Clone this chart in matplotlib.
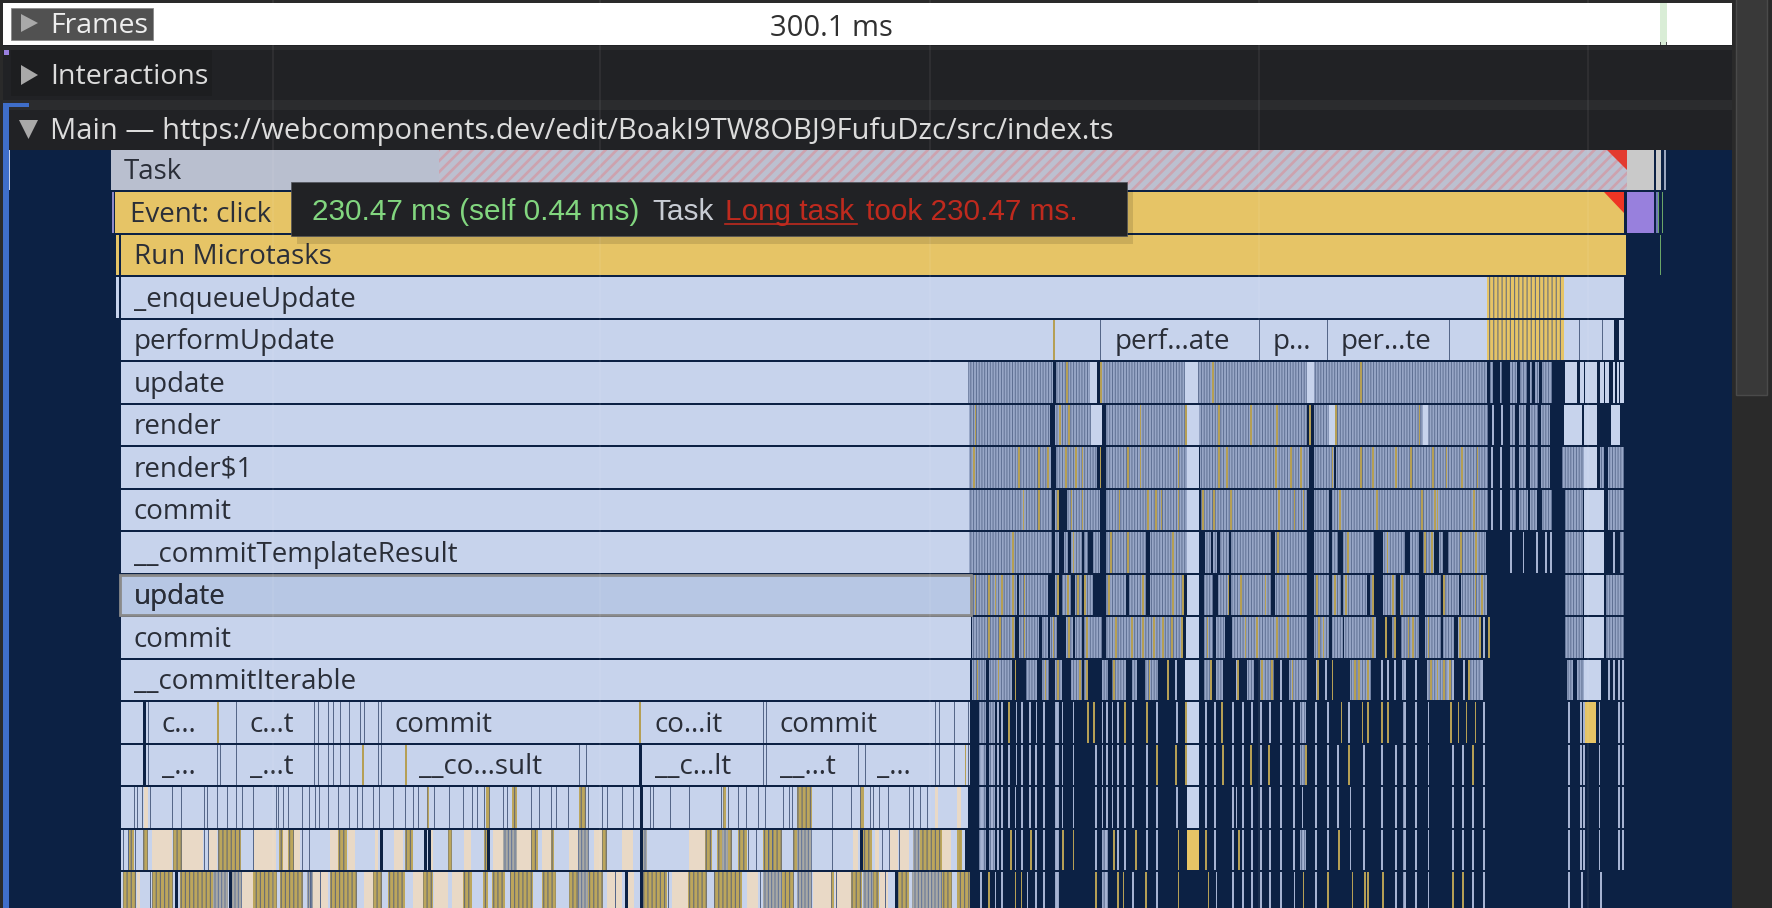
import matplotlib
matplotlib.use("Agg")
import matplotlib.pyplot as plt
from matplotlib.patches import Rectangle, Polygon

# ---- flame chart data: (start, end) on the timeline, gold / thin marks per stack depth ----
row_labels = {0: "Task", 1: "Event: click", 2: "Run Microtasks", 3: "_enqueueUpdate", 4: "performUpdate",
              5: "update", 6: "render", 7: "render$1", 8: "commit", 9: "__commitTemplateResult",
              10: "update", 11: "commit", 12: "__commitIterable"}
small_labels = [(4, 1115, "perf…ate"), (4, 1273, "p…"), (4, 1341, "per…te"),
                (13, 162, "c…"), (13, 250, "c…t"), (13, 395, "commit"), (13, 655, "co…it"), (13, 780, "commit"),
                (14, 162, "_…"), (14, 250, "_…t"), (14, 419, "__co…sult"), (14, 655, "__c…lt"), (14, 780, "__…t"), (14, 877, "_…")]

light = {
    3: [(121, 1487), (1564, 1624)],
    4: [(121, 1487), (1564, 1614), (1617, 1624)],
    5: [(121, 968), (1090, 1097), (1185, 1198), (1307, 1314), (1565, 1577), (1580, 1584), (1585, 1597), (1600, 1604), (1605, 1609), (1613, 1615), (1617, 1619), (1620, 1624)],
    6: [(121, 969), (1091, 1102), (1187, 1199), (1329, 1335), (1423, 1428), (1564, 1582), (1584, 1597), (1611, 1620)],
    7: [(121, 969), (1187, 1199), (1584, 1597)],
    8: [(121, 969), (1187, 1199), (1584, 1604)],
    9: [(121, 969), (1187, 1199), (1584, 1604)],
    10: [(1187, 1199), (1584, 1604)],
    11: [(121, 971), (1186, 1199), (1584, 1604)],
    12: [(121, 970), (1185, 1199), (1584, 1601)],
    13: [(121, 970), (1185, 1199)],
    14: [(121, 970), (1187, 1199)],
    15: [(121, 968), (1187, 1199)],
    16: [(121, 965)],
    17: [(121, 968)],
}
dense = {
    5: [(968, 1053), (1056, 1072), (1072, 1090), (1101, 1185), (1198, 1307), (1314, 1487), (1490, 1493), (1500, 1502), (1510, 1517), (1520, 1527), (1530, 1532), (1535, 1539), (1542, 1552)],
    6: [(969, 1050), (1055, 1091), (1106, 1187), (1199, 1307), (1314, 1329), (1335, 1423), (1428, 1488), (1510, 1515), (1519, 1526), (1530, 1538), (1541, 1550)],
    7: [(969, 1051), (1056, 1097), (1106, 1187), (1200, 1309), (1314, 1334), (1336, 1488), (1510, 1515), (1519, 1526), (1530, 1538), (1541, 1550), (1562, 1584), (1600, 1604), (1608, 1624)],
    8: [(969, 1052), (1055, 1059), (1067, 1100), (1106, 1187), (1201, 1307), (1314, 1329), (1332, 1488), (1510, 1516), (1519, 1528), (1530, 1537), (1542, 1552), (1565, 1583), (1608, 1624)],
    9: [(969, 1052), (1055, 1059), (1064, 1068), (1071, 1082), (1084, 1088), (1093, 1100), (1106, 1146), (1150, 1187), (1205, 1211), (1213, 1217), (1220, 1229), (1231, 1271), (1275, 1307), (1314, 1329), (1332, 1338), (1343, 1374), (1383, 1405), (1410, 1419), (1423, 1434), (1439, 1443), (1448, 1486), (1565, 1583), (1620, 1624)],
    10: [(972, 1017), (1019, 1048), (1055, 1059), (1062, 1071), (1075, 1082), (1084, 1093), (1106, 1126), (1129, 1146), (1150, 1184), (1204, 1213), (1218, 1229), (1231, 1271), (1275, 1307), (1314, 1329), (1332, 1341), (1343, 1367), (1370, 1374), (1383, 1396), (1400, 1419), (1425, 1441), (1443, 1459), (1461, 1487), (1565, 1583), (1606, 1624)],
    11: [(972, 988), (990, 1015), (1019, 1039), (1042, 1048), (1050, 1057), (1066, 1073), (1075, 1082), (1084, 1102), (1106, 1182), (1204, 1213), (1216, 1225), (1232, 1307), (1314, 1329), (1332, 1343), (1344, 1376), (1392, 1396), (1401, 1419), (1425, 1441), (1443, 1454), (1458, 1479), (1565, 1583), (1606, 1624)],
    12: [(972, 986), (989, 1012), (1026, 1037), (1042, 1049), (1055, 1062), (1071, 1082), (1084, 1088), (1102, 1108), (1112, 1126), (1132, 1137), (1145, 1158), (1204, 1211), (1216, 1223), (1247, 1254), (1260, 1274), (1289, 1307), (1350, 1371), (1402, 1406), (1427, 1452), (1470, 1483), (1567, 1573), (1577, 1584)],
    13: [(979, 986), (989, 995), (1055, 1059), (1300, 1306), (1403, 1406)],
    14: [(979, 986), (989, 995), (1055, 1059), (1300, 1306), (1403, 1406)],
    15: [(979, 986), (989, 995), (1055, 1059), (1403, 1406)],
    16: [(979, 986), (989, 995), (1055, 1059), (1102, 1108), (1300, 1306), (1403, 1406)],
    17: [(1055, 1059), (1102, 1108), (1403, 1406)],
}
gold_blocks = {
    3: [(1487, 1564)], 4: [(1487, 1564)],
    16: [(128, 134), (143, 148), (173, 182), (218, 241), (279, 283), (288, 294), (338, 347), (405, 413), (448, 452), (484, 489), (531, 538), (551, 554), (602, 607), (705, 712), (717, 722), (728, 732), (738, 747), (763, 782), (793, 797), (863, 872), (920, 942), (957, 962)],
    15: [(427, 429), (486, 490), (512, 517), (579, 586), (723, 726), (797, 812), (860, 864)],
    17: [(123, 136), (152, 173), (180, 213), (253, 277), (280, 303), (330, 357), (373, 382), (388, 405), (423, 433), (463, 472), (483, 488), (492, 505), (510, 533), (542, 556), (569, 578), (588, 603), (642, 667), (688, 707), (714, 742), (782, 794), (831, 834), (851, 862), (873, 879), (897, 909), (942, 952), (957, 970)],
}
grey_blocks = {
    16: [(503, 517), (578, 589), (642, 647), (722, 728), (797, 812), (913, 920)],
    17: [(213, 228), (232, 242), (763, 782), (797, 812), (863, 873), (912, 942), (307, 313), (578, 588)],
}
beige = {
    15: [(144, 148), (935, 938), (957, 961)],
    16: [(152, 172), (182, 203), (208, 217), (253, 276), (283, 288), (294, 300), (330, 338), (348, 355), (375, 378), (394, 403), (429, 433), (464, 471), (493, 503), (517, 531), (542, 551), (569, 578), (594, 602), (622, 633), (689, 705), (700, 706), (853, 858), (875, 879), (890, 898), (900, 909), (942, 951)],
    17: [(137, 140), (242, 253), (313, 328), (413, 423), (434, 448), (452, 463), (607, 622), (627, 634), (672, 688), (747, 758), (813, 831), (835, 851), (880, 888), (364, 373)],
}
# thin dark separators inside light bars
seps = {
    4: [1100, 1259, 1327, 1449, 1579, 1602],
    13: [144, 148, 236, 314, 318, 328, 333, 340, 349, 360, 364, 378, 381, 763, 766, 935, 939, 954, 968],
    14: [144, 148, 217, 220, 236, 314, 318, 328, 333, 340, 349, 378, 381, 579, 586, 763, 766, 858, 865, 935, 939, 954, 968],
    15: [134, 137, 142, 150, 172, 181, 204, 207, 217, 227, 236, 242, 253, 276, 278, 283, 288, 302, 309, 315, 319, 328, 338, 349, 357, 362, 373, 379, 393, 405, 413, 418, 434, 449, 463, 472, 477, 484, 503, 507, 531, 539, 551, 556, 568, 588, 602, 607, 622, 633, 650, 653, 670, 689, 721, 728, 738, 746, 758, 765, 783, 789, 792, 832, 851, 870, 873, 879, 888, 909, 913, 920, 927],
    16: [123, 128, 135, 204, 208, 253, 302, 309, 748, 756, 768, 772, 832, 882, 889, 899],
    17: [150, 310, 320, 615, 668, 760, 836, 885],
}
navy_cuts = {4: [1616], 5: [1097], 13: [143], 14: [143, 639], 15: [640], 16: [380, 424, 428, 487, 640, 860], 17: [175, 229, 625, 895, 640]}
gold_lines = {4: [1053], 5: [1066, 1100, 1212, 1360], 13: [217, 639], 14: [362, 405]}

# zoomed-crop readings of marks right of the solid bars: (depth) -> positions
gold_marks = {
    6: [55, 245, 265, 425, 527, 600, 672, 730, 805, 862, 1050],
    7: [52, 152, 197, 218, 258, 280, 295, 335, 397, 425, 510, 600, 618, 728, 762, 785, 855, 918, 945, 997, 1030, 1080, 1110, 1145, 1180],
    8: [163, 197, 240, 270, 295, 378, 442, 460, 472, 510, 565, 590, 628, 735, 770, 790, 872, 955, 1055, 1085, 1090, 1172],
    9: [140, 275, 358, 397, 497, 733, 890, 978, 1062, 1078, 1143, 1177],
    10: [55, 85, 100, 115, 140, 165, 240, 262, 285, 300, 355, 430, 497, 520, 622, 650, 705, 755, 820, 860, 885, 945, 990, 1010, 1105, 1175, 1190],
    11: [85, 110, 140, 165, 230, 265, 305, 370, 405, 430, 455, 475, 495, 517, 575, 660, 685, 730, 755, 825, 835, 945, 975, 995, 1025, 1035, 1070, 1140, 1185, 1205],
    12: [60, 107, 145, 212, 240, 290, 305, 365, 445, 487, 583, 643, 697, 720, 765, 823, 855, 905, 915, 935, 1075, 1090, 1105, 1118, 1160],
    13: [130, 308, 320, 390, 440, 527, 607, 875, 922, 935, 965, 980, 1120, 1137, 1155, 1175],
    14: [33, 462, 505, 527, 610, 672, 712, 795, 892, 1170],
    16: [20, 135, 180, 252, 275, 365, 415, 510, 572, 645, 870],
    17: [85, 145, 158, 325, 375, 387, 437, 510, 577, 790, 845, 900, 927, 935, 968, 1125, 1148],
}
thin_marks = {
    6: [1215, 1235],
    7: [1212, 1232],
    8: [1212, 1232],
    9: [1255, 1283, 1313, 1333, 1345, 1485],
    11: [1195],
    12: [145, 505, 640, 740, 820, 840, 855, 965, 980, 995, 1017, 1042, 1115, 1125, 1150, 1190, 1475, 1485, 1497, 1505],
    13: [105, 115, 147, 160, 178, 192, 208, 238, 250, 275, 340, 350, 362, 375, 408, 462, 507, 572, 592, 632, 655, 675, 695, 715, 740, 768, 790, 818, 845, 892, 1018, 1042, 1070, 1195, 1385, 1412, 1418, 1453, 1497, 1506],
    14: [70, 92, 105, 115, 130, 147, 160, 178, 190, 208, 238, 250, 275, 325, 340, 350, 362, 375, 390, 408, 440, 572, 592, 632, 655, 695, 740, 768, 818, 845, 868, 925, 965, 997, 1018, 1042, 1070, 1125, 1148, 1195, 1385, 1412, 1418, 1453, 1497, 1506],
    15: [70, 92, 105, 115, 130, 145, 160, 178, 190, 208, 238, 250, 275, 325, 340, 350, 362, 375, 390, 408, 440, 462, 507, 572, 592, 632, 640, 655, 675, 695, 715, 740, 768, 788, 818, 845, 868, 895, 925, 965, 997, 1018, 1042, 1070, 1125, 1148, 1170, 1195, 1385, 1412, 1418, 1453, 1497, 1506],
    16: [70, 92, 105, 115, 145, 160, 190, 208, 238, 325, 347, 375, 390, 440, 462, 592, 632, 655, 675, 695, 715, 740, 768, 790, 818, 845, 895, 925, 965, 997, 1018, 1042, 1070, 1125, 1148, 1170, 1195, 1385, 1412, 1418, 1453, 1497, 1506],
    17: [68, 100, 115, 172, 190, 208, 238, 347, 408, 462, 595, 632, 655, 675, 695, 715, 740, 770, 818, 997, 1018, 1042, 1070, 1170, 1195, 1385, 1413, 1457],
}
gridlines = [273, 600, 930, 1259, 1588]

NAVY = "#0c2144"; LIGHT = "#c7d3ec"; GOLD = "#e6c466"; BEIGE = "#e9d9c6"; HEAD = "#212225"
W, H = 1772, 908
TOP, PITCH = 149.0, 42.5
FONT = "Open Sans"
LABEL = 20
fig = plt.figure(figsize=(W / 100, H / 100), dpi=100, facecolor="#2a2a2a")

def full_axes(z, ylim):
    a = fig.add_axes([0, 0, 1, 1], zorder=z)
    a.set_xlim(0, W); a.set_ylim(*ylim); a.axis("off"); a.patch.set_alpha(0)
    return a

chrome = full_axes(1, (H, 0))
flame = full_axes(2, ((H - TOP) / PITCH, -TOP / PITCH))
over = full_axes(3, (H, 0))

def rz(v):
    return 950 + v / 2.24

# ---- chrome ----
def box(a, x0, y0, x1, y1, c, **k):
    a.add_patch(Rectangle((x0, y0), x1 - x0, y1 - y0, facecolor=c, edgecolor=k.pop("ec", "none"), **k))

box(chrome, 0, 0, W, H, "#2a2a2a")
box(chrome, 3, 3, 1732, 45, "#ffffff")
box(chrome, 3, 45, 1732, 150, HEAD)
box(chrome, 3, 46, 1732, 50, "#2b2c2e")
box(chrome, 3, 100, 1732, 108, "#2b2c2e")
box(chrome, 3, 150, 1732, H, NAVY)
box(chrome, 1660, 3, 1667, 45, "#d9edd6")
box(chrome, 1660, 42, 1661.5, 45, "#555555")
box(chrome, 1666, 42, 1667.5, 45, "#555555")
box(chrome, 1736, -10, 1767, 395, "#393939", ec="#4a4a4a", lw=1)
box(chrome, 11, 8, 153, 40, "#515151", ec="#8a8a8a", lw=0.6)
box(chrome, 11, 50, 212, 96, "#1d1e20")
box(chrome, 3, 108, 1732, 110, "#2b2c2e")
box(chrome, 3, 103, 29, 107, "#3f6ec9")
box(chrome, 3, 103, 9, H, "#3f6ec9")
box(chrome, 4, 50, 9, 55, "#9a80e0")
box(chrome, 9, 150, 10.5, 190, "#c7d3ec")
for tri in ([(21, 14), (21, 32), (38, 23)], [(21, 65), (21, 85), (38, 75)], [(19, 120), (38, 120), (28.5, 139)]):
    chrome.add_patch(Polygon(tri, facecolor="#a9a9a9", edgecolor="none"))
chrome.text(50, 26, "Frames", color="#eeeeee", fontsize=20.5, family=FONT, va="center")
chrome.text(50, 77, "Interactions", color="#dcdcdc", fontsize=20.5, family=FONT, va="center")
chrome.text(50, 131, "Main — https://webcomponents.dev/edit/BoakI9TW8OBJ9FufuDzc/src/index.ts",
            color="#dcdcdc", fontsize=21, family=FONT, va="center")
chrome.text(831, 28, "300.1 ms", color="#303030", fontsize=21, family=FONT, va="center", ha="center")

# ---- flame rows ----
def spans(depth, items, face, hatch=None, edge="none", lw=0.3, z=2):
    plt.rcParams["hatch.linewidth"] = lw
    for a, b in items:
        flame.bar(a, 0.945, width=b - a, bottom=depth + 0.02, align="edge", color=face,
                  hatch=hatch, edgecolor=edge, linewidth=0, zorder=z)

def marks(depth, xs, color, w=1.6, z=5):
    for x in xs:
        flame.bar(x, 0.945, width=w, bottom=depth + 0.02, align="edge", color=color, linewidth=0, zorder=z)

spans(0, [(111, 439)], "#b9bfcf")
spans(0, [(439, 1627)], "#bcc0d0", hatch="///", edge="#cda2ae", lw=1.9)
spans(0, [(1627, 1654), (1656, 1661)], "#c9c9c9")
marks(0, [1664], "#9aa6c0", 2)
spans(1, [(115, 1624)], GOLD)
marks(1, [112], "#8d88c8", 2)
spans(1, [(1627, 1654)], "#9880dd")
marks(1, [1656], "#6f78b8", 2); marks(1, [1658, 1662], "#6aa568", 1.5)
spans(2, [(121, 1626)], GOLD)
marks(2, [116], GOLD, 3)
marks(2, [1660], "#6aa568", 1.5)
marks(3, [116], LIGHT, 3)

for d, it in light.items():
    spans(d, it, LIGHT)
for d, it in beige.items():
    spans(d, it, BEIGE, z=3)
for d, it in dense.items():
    spans(d, it, "#98a7c7", hatch="||||||", edge="#5a6b8e", lw=0.65, z=3)
for d, it in grey_blocks.items():
    spans(d, it, "#a9a9a4", hatch="|||||", edge="#5f7298", lw=0.7, z=3)
for d, it in gold_blocks.items():
    if d in (3, 4):
        spans(d, it, GOLD, hatch="||||", edge="#6c7078", lw=0.8, z=3)
    else:
        spans(d, it, "#bca65c", hatch="||||", edge="#6c6f72", lw=0.85, z=3)
for d, xs in seps.items():
    marks(d, xs, "#566789", 1.5, z=4)
for d, xs in navy_cuts.items():
    marks(d, xs, NAVY, 3, z=6)
for d, xs in gold_marks.items():
    marks(d, [rz(v) for v in xs], "#b59f55", 1.7, z=5)
for d, xs in thin_marks.items():
    marks(d, [rz(v) for v in xs], "#a6b3d2", 1.7, z=4)
for d, xs in gold_lines.items():
    marks(d, xs, "#b59f55", 2.2, z=7)
spans(16, [(1187, 1199)], GOLD, z=6)
spans(13, [(1585, 1596)], GOLD, z=6)

flame.add_patch(Polygon([(1607, 0.02), (1627, 0.02), (1627, 0.5)], facecolor="#e33b30", edgecolor="none", zorder=8))
flame.add_patch(Polygon([(1604, 1.02), (1624, 1.02), (1624, 1.5)], facecolor="#ee3524", edgecolor="none", zorder=8))

DY = 0.55
for d, name in row_labels.items():
    x = {0: 124, 1: 130}.get(d, 134)
    flame.text(x, d + DY, name, color="#2a2e38", fontsize=LABEL, family=FONT, va="center", zorder=9)
for d, x, name in small_labels:
    flame.text(x, d + DY, name, color="#2a2e38", fontsize=LABEL, family=FONT, va="center", zorder=9)

flame.add_patch(Rectangle((120, 10.03), 851, 0.94, facecolor="#b7c7e4", edgecolor="#8a8a8a", linewidth=2, zorder=6))
flame.text(134, 10 + DY, "update", color="#2a2e38", fontsize=LABEL, family=FONT, va="center", zorder=9)

# ---- grid and tooltip ----
for g in gridlines:
    over.plot([g, g], [0, 908], color="#ffffff", alpha=0.07, lw=1.2)
box(over, 297, 190, 1133, 244, "#000000", alpha=0.12)
box(over, 291, 182, 1127, 236, HEAD, ec="#50525a", lw=0.5, zorder=3)
TF = "Liberation Sans"
TS = 21.4
over.text(312, 212, "230.47 ms (self 0.44 ms)", color="#82d67f", fontsize=TS, family=TF, va="center", zorder=4)
over.text(652, 212, "Task", color="#c8ccd4", fontsize=TS, family=TF, va="center", zorder=4)
over.text(725, 212, "Long task", color="#bf2a1e", fontsize=TS, family=TF, va="center", zorder=4)
over.plot([725, 857], [224, 224], color="#bf2a1e", lw=1.2, zorder=4)
over.text(866, 212, "took 230.47 ms.", color="#bf2a1e", fontsize=TS, family=TF, va="center", zorder=4)

fig.savefig("out.png", dpi=100, facecolor=fig.get_facecolor())
